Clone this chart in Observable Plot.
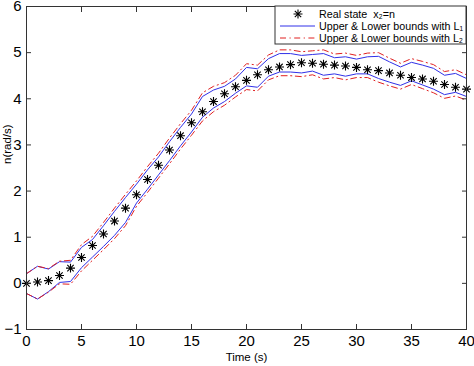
<!DOCTYPE html>
<html>
<head>
<meta charset="utf-8">
<script src="https://cdn.jsdelivr.net/npm/d3@7"></script>
<script src="https://cdn.jsdelivr.net/npm/@observablehq/plot@0.6"></script>
<style>
  html, body { margin: 0; padding: 0; background: #fff; }
  #chart { position: relative; width: 474px; height: 366px; }
  svg { font-family: "Liberation Sans", Arial, sans-serif; }
</style>
</head>
<body>
<div id="chart"></div>
<script>
const time = d3.range(0, 41);
const realState = [0, 0.03, 0.06, 0.17, 0.33, 0.56, 0.82, 1.07, 1.35, 1.63, 1.92, 2.25, 2.56, 2.89, 3.2, 3.48, 3.72, 3.94, 4.11, 4.26, 4.4, 4.52, 4.63, 4.69, 4.74, 4.78, 4.77, 4.75, 4.73, 4.71, 4.68, 4.63, 4.61, 4.56, 4.51, 4.46, 4.43, 4.38, 4.31, 4.25, 4.21];
const upperL1 = [0.21,0.37,0.31,0.47,0.46,0.78,0.95,1.25,1.56,1.86,2.15,2.46,2.74,3.07,3.38,3.67,4.05,4.19,4.27,4.43,4.68,4.65,4.87,4.98,4.98,4.94,4.96,4.98,4.89,4.91,4.86,4.91,4.92,4.80,4.69,4.79,4.73,4.66,4.51,4.55,4.44];
const lowerL1 = [-0.22,-0.34,-0.18,0.02,0.04,0.34,0.57,0.80,1.04,1.32,1.74,2.04,2.35,2.66,2.98,3.28,3.60,3.80,3.94,4.12,4.28,4.25,4.49,4.58,4.58,4.56,4.60,4.51,4.54,4.49,4.54,4.54,4.44,4.36,4.29,4.39,4.30,4.21,4.09,4.14,4.05];
const upperL2 = [0.21,0.37,0.32,0.48,0.50,0.84,1.02,1.32,1.63,1.93,2.22,2.53,2.82,3.15,3.46,3.75,4.13,4.27,4.35,4.51,4.76,4.73,4.95,5.06,5.06,5.02,5.04,5.06,4.97,4.99,4.94,4.99,5.00,4.88,4.77,4.87,4.81,4.74,4.59,4.63,4.52];
const lowerL2 = [-0.22,-0.34,-0.19,-0.01,-0.02,0.27,0.50,0.73,0.97,1.25,1.67,1.97,2.28,2.59,2.91,3.21,3.52,3.72,3.86,4.04,4.20,4.17,4.41,4.50,4.50,4.48,4.52,4.43,4.46,4.41,4.46,4.46,4.36,4.28,4.21,4.31,4.22,4.13,4.01,4.06,3.97];
const xTicks = [0, 5, 10, 15, 20, 25, 30, 35, 40];
const yTicks = [-1, 0, 1, 2, 3, 4, 5, 6];
const legendLabels = ["Real state  x\u2082=n", "Upper & Lower bounds with L\u2081", "Upper & Lower bounds with L\u2082"];
const xLabel = "Time (s)";
const yLabel = "n(rad/s)";

const rows = time.map((t, i) => ({t, s: realState[i], u1: upperL1[i], l1: lowerL1[i], u2: upperL2[i], l2: lowerL2[i]}));

const BLUE = "#3030e8";
const RED = "#e02020";
const DASH = "6,3.5,1.2,3.5";
const STAR_R = 3;

const plot = Plot.plot({
  width: 474,
  height: 366,
  marginLeft: 26,
  marginRight: 8,
  marginTop: 6,
  marginBottom: 37,
  style: {fontFamily: "Liberation Sans, Arial, sans-serif", background: "#fff"},
  x: {domain: [0, 40]},
  y: {domain: [-1, 6]},
  marks: [
    Plot.line(rows, {x: "t", y: "u1", stroke: BLUE, strokeWidth: 1}),
    Plot.line(rows, {x: "t", y: "l1", stroke: BLUE, strokeWidth: 1}),
    Plot.line(rows, {x: "t", y: "u2", stroke: RED, strokeWidth: 1, strokeDasharray: DASH}),
    Plot.line(rows, {x: "t", y: "l2", stroke: RED, strokeWidth: 1, strokeDasharray: DASH}),
    Plot.dot(rows, {x: "t", y: "s", symbol: "plus", r: STAR_R, stroke: "#000", strokeWidth: 1.1}),
    Plot.dot(rows, {x: "t", y: "s", symbol: "times", r: STAR_R, stroke: "#000", strokeWidth: 1.1}),
    Plot.dot(rows, {x: "t", y: "s", r: 1.3, fill: "#000"}),
    Plot.frame({stroke: "#333", strokeWidth: 1}),
    Plot.axisX(xTicks, {anchor: "bottom", tickSize: -5, tickPadding: 11, fontSize: 15, label: null, stroke: "#333", color: "#000"}),
    Plot.axisX(xTicks, {anchor: "top", tickSize: -5, tickFormat: () => "", label: null, stroke: "#333"}),
    Plot.axisY(yTicks, {anchor: "left", tickSize: -5, tickPadding: 10, fontSize: 15, label: null, stroke: "#333", color: "#000", tickFormat: d => d < 0 ? "\u2212" + Math.abs(d) : String(d)}),
    Plot.axisY(yTicks, {anchor: "right", tickSize: -5, tickFormat: () => "", label: null, stroke: "#333"}),
    Plot.text([xLabel], {frameAnchor: "bottom", dy: 31, fontSize: 11.5, fill: "#000", text: d => d}),
    Plot.text([yLabel], {frameAnchor: "left", dx: -19, dy: -4, rotate: -90, fontSize: 11.5, fill: "#000", text: d => d})
  ]
});
document.getElementById("chart").appendChild(plot);

// Legend inset in the top-right corner of the axes
const svg = d3.select(plot);
const lx = 275, ly = 6, lw = 191, lh = 38;
const g = svg.append("g").attr("font-family", "Liberation Sans, Arial, sans-serif").attr("text-anchor", "start");
g.append("rect").attr("x", lx).attr("y", ly).attr("width", lw).attr("height", lh)
  .attr("fill", "#fff").attr("stroke", "#333").attr("stroke-width", 1);
const rowY = [14, 26, 38];
const textLen = [76, 144, 144];
const sx = 298, sy = rowY[0];
g.append("path").attr("d", d3.symbol(d3.symbolPlus, Math.PI * STAR_R * STAR_R)()).attr("transform", `translate(${sx},${sy})`).attr("fill", "none").attr("stroke", "#000").attr("stroke-width", 1.1);
g.append("path").attr("d", d3.symbol(d3.symbolTimes, Math.PI * STAR_R * STAR_R)()).attr("transform", `translate(${sx},${sy})`).attr("fill", "none").attr("stroke", "#000").attr("stroke-width", 1.1);
g.append("circle").attr("cx", sx).attr("cy", sy).attr("r", 1.3).attr("fill", "#000");
g.append("line").attr("x1", 280).attr("x2", 315).attr("y1", rowY[1]).attr("y2", rowY[1]).attr("stroke", BLUE).attr("stroke-width", 1);
g.append("line").attr("x1", 280).attr("x2", 315).attr("y1", rowY[2]).attr("y2", rowY[2]).attr("stroke", RED).attr("stroke-width", 1).attr("stroke-dasharray", DASH);
legendLabels.forEach((s, i) => {
  g.append("text").attr("x", 319).attr("y", rowY[i]).attr("dy", "0.35em").attr("font-size", 11.5)
    .attr("fill", "#000").attr("text-anchor", "start")
    .attr("textLength", textLen[i]).attr("lengthAdjust", "spacingAndGlyphs").text(s);
});
</script>
</body>
</html>
